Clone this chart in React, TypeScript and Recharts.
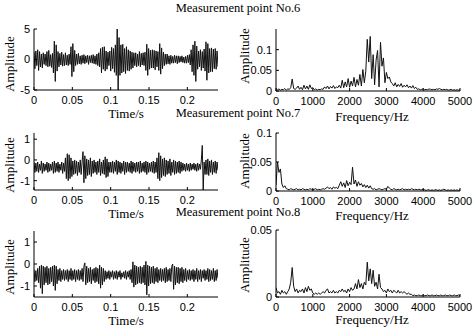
import React from "react";
import { LineChart, Line, XAxis, YAxis } from "recharts";

const TIME_STEP = 0.24 / 199;
const FREQ_STEP = 40;

const timeTicks = [0, 0.05, 0.1, 0.15, 0.2];
const freqTicks = [0, 1000, 2000, 3000, 4000, 5000];

const titles = ["Measurement point No.6", "Measurement point No.7", "Measurement point No.8"];

// Measurement point No.6 - time signal
const wave6 = [
  1.2, -1.5, 1.4, -1.0, 1.6, -1.8, 1.3, -1.2, 0.9, -1.4, 1.1, -0.8, 0.9, -1.0, 1.3, -1.2, 1.5, -1.1, 0.8, -1.3, 1.0,
  -2.2, 3.0, -3.6, 2.4, -1.9,
  1.3, -1.2, 1.0, -0.9, 1.2, -1.1, 0.8, -1.0, 1.1, -0.9, 0.7, -1.0, 0.9, -0.8,
  2.1, -2.8, 2.6, -2.0, 1.5,
  -1.0, 0.9, -0.8, 1.0, -0.7, 0.6, -0.8, 0.7, -0.6, 0.8, -0.7, 0.6, -0.5, 0.7, -0.8, 0.6, -0.5, 0.7, -0.6, 0.8,
  -0.7, 0.6, -0.8, 0.9, -1.0, 1.1, -1.2,
  1.8, -2.2, 2.0, -1.6, 2.1, -1.9, 1.4, -1.6, 1.2, -1.0,
  1.4, -1.9, 2.0, -1.5, 1.8, -2.1, 2.4,
  -2.6, 5.0, -5.0, 3.6,
  -2.6, 2.4, -2.2, 2.5, -2.0, 1.8, -2.3, 2.1, -1.8, 1.6, -1.9, 1.4, -1.6, 1.2, -1.4, 1.1,
  -1.0, 1.1, -1.2, 0.9, -1.0, 1.3, -1.2, 1.0, -0.9, 1.1, -1.0, 1.2,
  -1.8, 2.5, -2.6, 1.8, -1.6,
  1.5, -1.4, 1.6, -1.4, 1.5, -1.7, 1.4, -1.2, 1.3,
  -1.8, 2.6, -2.4, 1.9, -1.5,
  1.2, -1.0, 0.9, -0.8, 0.9, -0.7, 0.6, -0.8, 0.7, -0.6, 0.5, -0.6, 0.7, -0.5, 0.6, -0.7, 0.6, -0.5, 0.5, -0.4,
  0.6, -0.5, 0.4, -0.6, 0.5, -0.6, 0.7, -0.5, 0.8, -0.9,
  1.6, -2.0, 2.4, -2.6, 3.0, -3.6, 2.2,
  -1.6, 1.4, -1.2, 1.6, -1.8, 1.3, -1.4, 1.7, -1.9,
  2.9, -3.4, 2.6, -2.2, 1.8, -2.0,
  1.9, -2.0, 1.7, -1.5, 1.8, -1.6, 1.4, -1.2,
];

// Measurement point No.7 - time signal
const wave7 = [
  -0.1, -0.6, -0.15, -0.55, -0.1, -0.6, -0.2, -0.5, -0.05, -0.65, -0.15, -0.55, -0.2, -0.5, -0.1, -0.6, -0.15,
  -0.55, -0.2, -0.5, -0.1, -0.65, -0.05, -0.6, -0.15, -0.55, -0.1, -0.6, -0.2, -0.5, -0.1, -0.65, -0.15, -0.55,
  0.1, -0.9, 0.3, -1.0, 0.25, -0.9, 0.1, -0.8,
  -0.05, -0.7, 0.0, -0.65, -0.05, -0.75, -0.1, -0.6, 0.0, -0.7, -0.1,
  0.4, -1.1, 0.2, -0.9,
  0.05, -0.75, 0.0, -0.7, 0.1, -0.8, -0.05, -0.65, 0.0, -0.6, -0.1, -0.7, -0.05, -0.6, 0.05, -0.75, -0.1, -0.65, 0.0, -0.7,
  0.15, -0.85, 0.05, -0.8, -0.1, -0.6,
  -0.1, -0.6, -0.05, -0.65, -0.1, -0.55, 0.0, -0.7, -0.05, -0.6, -0.1, -0.65, -0.15, -0.55, -0.05, -0.7, -0.1,
  -0.6, -0.1, -0.55, -0.15, -0.6, -0.05, -0.65, -0.1, -0.55, -0.15, -0.6, -0.1, -0.55, -0.1, -0.65, -0.05, -0.6,
  -0.15, -0.55, -0.1, -0.6, -0.05, -0.7, -0.1, -0.6, -0.15, -0.55, -0.1, -0.6, -0.05, -0.65, -0.1, -0.6,
  0.1, -0.9, 0.35, -1.0, 0.2, -0.85,
  0.05, -0.75, 0.1, -0.8, 0.0, -0.7, -0.05, -0.65, 0.05, -0.75, -0.1, -0.6, 0.0, -0.7, -0.05, -0.65, -0.1, -0.6,
  -0.05, -0.65, -0.1, -0.55,
  -0.15, -0.5, -0.2, -0.55, -0.15, -0.5, -0.2, -0.55, -0.15, -0.5, -0.2, -0.45, -0.15, -0.5, -0.2, -0.55, -0.15,
  -0.5, -0.2, -0.45,
  0.0, 0.7, -1.45, -0.1,
  -0.7, 0.0, -0.7, 0.05, -0.75, -0.05, -0.6, 0.0, -0.7, -0.1, -0.6, -0.05, -0.65, -0.1, -0.5,
];

// Measurement point No.8 - time signal
const wave8 = [
  -0.25, -0.8, -0.3, -0.75, -0.2, -0.85,
  -0.1, -1.1, -0.05, -1.35, -0.1, -0.95,
  -0.15, -0.85, -0.1, -0.95, -0.2, -0.9, -0.15, -0.8, -0.1,
  -1.0, -0.05, -1.2, -0.1, -0.9,
  -0.25, -0.75, -0.2, -0.8, -0.3, -0.7, -0.25, -0.75, -0.3, -0.7, -0.25, -0.8, -0.3, -0.7, -0.2, -0.75, -0.3, -0.7,
  -0.25, -0.8, -0.3, -0.7, -0.25, -0.75, -0.3, -0.7, -0.2, -0.8,
  -0.1, 0.05, -0.95, -0.1, -0.85,
  -0.2, -0.8, -0.15, -0.9, -0.25, -0.75, -0.2, -0.85, -0.15, -0.8, -0.2, -0.9,
  -0.05, -1.1, -0.15, -0.95, -0.2, -0.8,
  -0.3, -0.7, -0.35, -0.65, -0.3, -0.7, -0.35, -0.6, -0.3, -0.7, -0.35, -0.65, -0.3, -0.7, -0.35, -0.6, -0.3,
  -0.7, -0.4, -0.6, -0.35, -0.65, -0.3, -0.7, -0.35, -0.6, -0.3, -0.7, -0.25,
  -0.85, 0.1, -1.05, -0.05, -0.95, -0.1,
  -0.9, -0.15, -0.85, -0.1, -0.9, -0.15, -0.85, -0.05, -0.95,
  0.12, -1.4, -0.05, -1.0, -0.1,
  -0.9, -0.15, -0.85, -0.1, -0.9, -0.2, -0.8, -0.15, -0.85, -0.25, -0.75, -0.2, -0.8, -0.25, -0.75, -0.2, -0.85,
  -0.15, -0.8, -0.25, -0.75, -0.2, -0.8,
  -0.1, 0.0, -1.15, -0.1, -0.95, -0.15,
  -0.85, -0.15, -0.9, -0.2, -0.8, -0.15, -0.85, -0.25, -0.75, -0.2, -0.8,
  -0.3, -0.7, -0.25, -0.75, -0.3, -0.7, -0.25, -0.8, -0.3, -0.7, -0.2, -0.8, -0.3, -0.7, -0.25, -0.8, -0.3,
  -0.65, -0.25, -0.75, -0.3, -0.7, -0.2, -0.8, -0.25, -0.75, -0.3, -0.7, -0.2, -0.8, -0.3, -0.75, -0.25, -0.65,
];

// spectra, one value every 40 Hz
const spec6 = [
  0.006, 0.003, 0.005, 0.002, 0.004, 0.003, 0.006, 0.002, 0.005, 0.004, 0.008,
  0.029,
  0.006, 0.004, 0.007,
  0.012, 0.004, 0.009, 0.003, 0.014, 0.005, 0.012, 0.004, 0.015, 0.006, 0.008,
  0.003, 0.005, 0.002, 0.004, 0.003, 0.005, 0.004,
  0.010, 0.006, 0.012, 0.005, 0.011, 0.007, 0.013, 0.006, 0.010, 0.008, 0.014, 0.007,
  0.026, 0.008, 0.022, 0.010, 0.030, 0.009, 0.024, 0.012, 0.033, 0.010, 0.028, 0.014,
  0.040, 0.012, 0.052, 0.020, 0.048,
  0.125, 0.070, 0.132,
  0.030, 0.088, 0.015, 0.075, 0.098, 0.010, 0.118, 0.060, 0.080,
  0.020, 0.045, 0.030, 0.034, 0.022,
  0.018, 0.012, 0.020, 0.010, 0.016, 0.011, 0.018, 0.009, 0.014, 0.010, 0.015, 0.008, 0.012, 0.007, 0.013, 0.006, 0.009,
  0.004, 0.005, 0.003, 0.004, 0.005, 0.003, 0.004, 0.003, 0.005, 0.004, 0.003, 0.004, 0.003, 0.005, 0.004,
  0.006, 0.004, 0.003, 0.004, 0.003, 0.004, 0.002, 0.003, 0.004, 0.002, 0.003, 0.002, 0.003, 0.002, 0.003,
];

const spec7 = [
  0.010, 0.050, 0.032, 0.038, 0.012, 0.006, 0.009, 0.004,
  0.003, 0.002, 0.004, 0.003, 0.002, 0.003, 0.004, 0.002, 0.003, 0.002, 0.004, 0.003, 0.002, 0.003,
  0.002, 0.004, 0.003, 0.002, 0.003, 0.004, 0.002, 0.003, 0.002, 0.003, 0.004, 0.003, 0.005,
  0.007, 0.004, 0.006, 0.003, 0.007, 0.005, 0.006, 0.004,
  0.010, 0.016, 0.008, 0.014, 0.006, 0.018, 0.009, 0.015, 0.011,
  0.041,
  0.012, 0.019, 0.008, 0.016, 0.010, 0.013, 0.007, 0.011,
  0.006, 0.010, 0.005, 0.009, 0.004,
  0.003, 0.004, 0.002, 0.003, 0.004, 0.003, 0.002, 0.003, 0.004, 0.003,
  0.008, 0.005,
  0.003, 0.002, 0.004, 0.003, 0.002, 0.003, 0.002, 0.003, 0.004, 0.002, 0.003, 0.002, 0.003, 0.002,
  0.004, 0.003, 0.002, 0.003, 0.002, 0.003, 0.002, 0.002, 0.003,
  0.002, 0.001, 0.002, 0.002, 0.001, 0.002, 0.001, 0.002, 0.002, 0.001, 0.002, 0.001, 0.002,
  0.003, 0.002, 0.001, 0.002, 0.001, 0.002, 0.001, 0.002, 0.001, 0.002, 0.001, 0.002,
];

const spec8 = [
  0.007, 0.003, 0.004, 0.002, 0.005, 0.003, 0.004, 0.002, 0.004, 0.006,
  0.011, 0.022, 0.008,
  0.004, 0.006, 0.003, 0.005, 0.004, 0.006, 0.003, 0.007, 0.004, 0.008, 0.005, 0.006,
  0.003, 0.002, 0.003, 0.002, 0.003, 0.002, 0.003, 0.004, 0.003, 0.005,
  0.006, 0.003, 0.004, 0.003, 0.005, 0.003, 0.004, 0.003, 0.005, 0.004,
  0.006, 0.004, 0.005, 0.003, 0.006, 0.004, 0.007, 0.005, 0.006,
  0.010, 0.006, 0.013,
  0.007, 0.010, 0.006, 0.011, 0.009,
  0.026,
  0.012, 0.021, 0.010, 0.020, 0.008,
  0.011, 0.006, 0.017, 0.007,
  0.006, 0.004, 0.005, 0.003, 0.006, 0.004, 0.005, 0.003, 0.005, 0.004, 0.003, 0.005, 0.003, 0.004, 0.003, 0.004,
  0.003, 0.002, 0.003, 0.002, 0.002,
  0.001, 0.0015, 0.001, 0.001, 0.0015, 0.001, 0.001, 0.0015, 0.001, 0.001, 0.0015, 0.001,
  0.001, 0.0015, 0.001, 0.001, 0.0015, 0.001, 0.001, 0.0015, 0.001, 0.001, 0.0015, 0.001,
  0.001, 0.0015, 0.001, 0.001, 0.0015, 0.001, 0.001, 0.0015, 0.001,
];

const toTimeRows = (vals: number[]) => vals.map((v, i) => ({ x: i * TIME_STEP, v }));
const toFreqRows = (vals: number[]) => vals.map((v, i) => ({ x: i * FREQ_STEP, v }));

const TICK_FONT = { fill: "#000", fontSize: 11, fontFamily: "Liberation Sans, Arial, sans-serif" };
const LABEL_FONT = "Liberation Serif, Times New Roman, serif";

interface Box { x: number; y: number; w: number; h: number }

interface PanelProps {
  box: Box;
  rows: { x: number; v: number }[];
  xDomain: [number, number];
  xTicks: number[];
  yDomain: [number, number];
  yTicks: number[];
}

function Panel({ box, rows, xDomain, xTicks, yDomain, yTicks }: PanelProps) {
  const L = 40;
  const B = 18;
  const T = 8;
  const R = 16;
  const blank = () => "";
  return (
    <div style={{ position: "absolute", left: box.x - L, top: box.y - T }}>
      <LineChart
        width={box.w + L + R}
        height={box.h + T + B}
        data={rows}
        margin={{ top: T, right: R, left: 0, bottom: 0 }}
      >
        <XAxis
          xAxisId="b"
          type="number"
          dataKey="x"
          domain={xDomain}
          ticks={xTicks}
          interval={0}
          allowDataOverflow
          height={B}
          tickSize={-3}
          tickMargin={9}
          tick={TICK_FONT}
          axisLine={{ stroke: "#000" }}
          tickLine={{ stroke: "#000" }}
        />
        <XAxis
          xAxisId="t"
          orientation="top"
          type="number"
          dataKey="x"
          domain={xDomain}
          ticks={xTicks}
          interval={0}
          allowDataOverflow
          height={0}
          tickSize={-3}
          tickFormatter={blank}
          axisLine={{ stroke: "#000" }}
          tickLine={{ stroke: "#000" }}
        />
        <YAxis
          yAxisId="l"
          type="number"
          domain={yDomain}
          ticks={yTicks}
          interval={0}
          allowDataOverflow
          width={L}
          tickSize={-3}
          tickMargin={7}
          tick={TICK_FONT}
          axisLine={{ stroke: "#000" }}
          tickLine={{ stroke: "#000" }}
        />
        <YAxis
          yAxisId="r"
          orientation="right"
          type="number"
          domain={yDomain}
          ticks={yTicks}
          interval={0}
          allowDataOverflow
          width={0}
          tickSize={-3}
          tickFormatter={blank}
          axisLine={{ stroke: "#000" }}
          tickLine={{ stroke: "#000" }}
        />
        <Line
          xAxisId="b"
          yAxisId="l"
          type="linear"
          dataKey="v"
          stroke="#111"
          strokeWidth={1}
          dot={false}
          isAnimationActive={false}
        />
      </LineChart>
    </div>
  );
}

export default function App() {
  const left = (y: number, h: number): Box => ({ x: 34, y, w: 184, h });
  const right = (y: number, h: number): Box => ({ x: 276, y, w: 184, h });

  return (
    <div
      style={{
        position: "absolute",
        left: 0,
        top: 0,
        width: 474,
        height: 332,
        background: "#fff",
        overflow: "hidden",
      }}
    >
      <Panel box={left(29, 61)} rows={toTimeRows(wave6)} xDomain={[0, 0.24]} xTicks={timeTicks} yDomain={[-5, 5]} yTicks={[-5, 0, 5]} />
      <Panel box={right(29, 62)} rows={toFreqRows(spec6)} xDomain={[0, 5000]} xTicks={freqTicks} yDomain={[0, 0.15]} yTicks={[0, 0.05, 0.1]} />
      <Panel box={left(133, 57)} rows={toTimeRows(wave7)} xDomain={[0, 0.24]} xTicks={timeTicks} yDomain={[-1.45, 1.3]} yTicks={[-1, 0, 1]} />
      <Panel box={right(133, 58)} rows={toFreqRows(spec7)} xDomain={[0, 5000]} xTicks={freqTicks} yDomain={[0, 0.1]} yTicks={[0, 0.05, 0.1]} />
      <Panel box={left(231, 66)} rows={toTimeRows(wave8)} xDomain={[0, 0.24]} xTicks={timeTicks} yDomain={[-1.5, 1.5]} yTicks={[-1, 0, 1]} />
      <Panel box={right(230, 67)} rows={toFreqRows(spec8)} xDomain={[0, 5000]} xTicks={freqTicks} yDomain={[0, 0.05]} yTicks={[0, 0.05]} />

      <svg
        width={474}
        height={332}
        style={{ position: "absolute", left: 0, top: 0, pointerEvents: "none" }}
        fontFamily={LABEL_FONT}
        fontSize={13}
        fill="#000"
      >
        <text x={238} y={12} textAnchor="middle" fontSize={12.5}>{titles[0]}</text>
        <text x={238} y={117} textAnchor="middle" fontSize={12.5}>{titles[1]}</text>
        <text x={238} y={216} textAnchor="middle" fontSize={12.5}>{titles[2]}</text>

        <text x={126} y={118} textAnchor="middle">Time/s</text>
        <text x={126} y={218} textAnchor="middle">Time/s</text>
        <text x={126} y={325} textAnchor="middle">Time/s</text>

        <text x={372} y={121} textAnchor="middle">Frequency/Hz</text>
        <text x={372} y={220} textAnchor="middle">Frequency/Hz</text>
        <text x={372} y={324} textAnchor="middle">Frequency/Hz</text>

        <text transform="translate(9.5,64) rotate(-90)" textAnchor="middle" dominantBaseline="central">Amplitude</text>
        <text transform="translate(9.5,165) rotate(-90)" textAnchor="middle" dominantBaseline="central">Amplitude</text>
        <text transform="translate(9.5,267) rotate(-90)" textAnchor="middle" dominantBaseline="central">Amplitude</text>
        <text transform="translate(244,56) rotate(-90)" textAnchor="middle" dominantBaseline="central">Amplitude</text>
        <text transform="translate(244,161) rotate(-90)" textAnchor="middle" dominantBaseline="central">Amplitude</text>
        <text transform="translate(244,265) rotate(-90)" textAnchor="middle" dominantBaseline="central">Amplitude</text>
      </svg>
    </div>
  );
}
